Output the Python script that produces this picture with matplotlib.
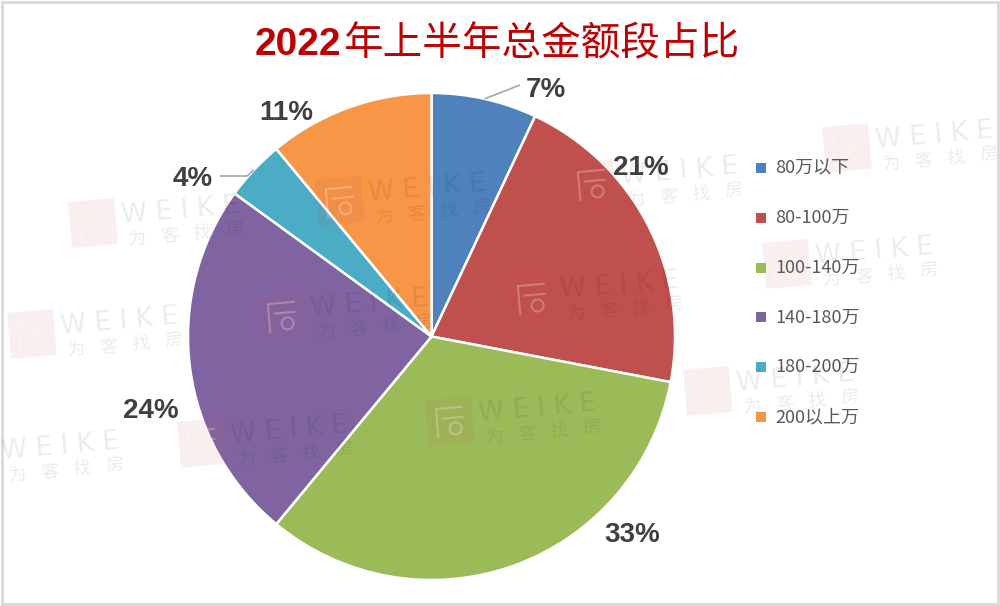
import numpy as np
import matplotlib
matplotlib.use('Agg')
import matplotlib.pyplot as plt
from matplotlib.patches import Rectangle
from matplotlib.transforms import Affine2D

plt.rcParams['font.family'] = ['Noto Sans CJK SC', 'DejaVu Sans']

# ---------------- data ----------------
categories = ['80万以下', '80-100万', '100-140万', '140-180万', '180-200万', '200以上万']
shares = [7, 21, 33, 24, 4, 11]
colors = ['#4F81BD', '#C0504D', '#9BBB59', '#8064A2', '#4BACC6', '#F79646']
title_year = '2022'
title_rest = '年上半年总金额段占比'
watermark_word = 'W E I K E'
watermark_cn = ['为', '客', '找', '房']

# ---------------- layout (pixels) ----------------
W, H = 1000, 606
fig = plt.figure(figsize=(W / 100, H / 100), dpi=100)
fig.patch.set_facecolor('white')

cx, cy, R = 431.5, 336.5, 243.5
half = 1.2 * R
ax = fig.add_axes([(cx - half) / W, (H - cy - half) / H, 2 * half / W, 2 * half / H])
wedges, _ = ax.pie(shares, colors=colors, startangle=90, counterclock=False, radius=1,
                   wedgeprops=dict(edgecolor='white', linewidth=1.8))
ax.set_xlim(-1.2, 1.2)
ax.set_ylim(-1.2, 1.2)
ax.axis('off')


def to_pie(px, py):
    return (px - cx) / R, (cy - py) / R


# percent labels (baseline positions in pixels)
label_px = [(546, 97), (641, 175), (632, 542), (151, 418), (193, 186), (286, 120)]
for v, (px, py) in zip(shares, label_px):
    x, y = to_pie(px, py)
    ax.text(x, y, f'{v}%', ha='center', va='baseline', fontsize=20,
            fontweight='bold', family=['Liberation Sans', 'DejaVu Sans'], color='#404040')

# leader lines
cum = np.cumsum(shares)
mids = 90 - (cum - np.array(shares) / 2) * 3.6
leaders = {0: [(520, 85)], 4: [(247, 176), (220, 176)]}
for idx, pts in leaders.items():
    a = np.deg2rad(mids[idx])
    xs = [np.cos(a)] + [to_pie(*p)[0] for p in pts]
    ys = [np.sin(a)] + [to_pie(*p)[1] for p in pts]
    ax.plot(xs, ys, color='#A6A6A6', lw=1.2, solid_capstyle='butt')

# ---------------- overlay in pixel coords ----------------
ov = fig.add_axes([0, 0, 1, 1], zorder=5)
ov.set_xlim(0, W)
ov.set_ylim(H, 0)
ov.axis('off')
ov.patch.set_alpha(0)

# title
ov.text(341, 55, title_year, ha='right', va='baseline', fontsize=28, fontweight='bold',
        family=['Liberation Sans', 'DejaVu Sans'], color='#C00000')
ov.text(343, 55, title_rest, ha='left', va='baseline', fontsize=28.5,
        family=['Noto Sans CJK SC'], color='#C00000')

# legend
for i, (lab, col) in enumerate(zip(categories, colors)):
    ry = 168 + i * 49.8
    ov.add_patch(Rectangle((756, ry - 5), 10, 10, facecolor=col, edgecolor='none'))
    ov.text(775, ry, lab, ha='left', va='center', fontsize=13, color='#595959')

# watermarks
wm = [(68, 202), (315, 180), (257, 295), (7, 313), (822, 127), (567, 163), (762, 243),
      (507, 277), (-52, 438), (177, 422), (425, 400), (683, 370)]
for lx, ly in wm:
    rot = Affine2D().rotate_deg_around(lx, ly, -5) + ov.transData
    ov.add_patch(Rectangle((lx, ly), 46, 46, facecolor='#C0504D', alpha=0.09,
                           edgecolor='none', transform=rot))
    ov.plot([lx + 10, lx + 10, lx + 36], [ly + 38, ly + 10, ly + 10], color='white',
            lw=1.5, alpha=0.25, transform=rot)
    ov.plot([lx + 16, lx + 36], [ly + 20, ly + 20], color='white', lw=1.5, alpha=0.25,
            transform=rot)
    ov.add_patch(plt.Circle((lx + 28, ly + 31), 6, facecolor='none', edgecolor='white',
                            lw=1.5, alpha=0.25, transform=rot))
    ov.text(lx + 52, ly + 26, watermark_word, ha='left', va='baseline', fontsize=19,
            family=['DejaVu Sans'], color='black', alpha=0.08, rotation=5,
            rotation_mode='anchor', transform=rot)
    for j, ch in enumerate(watermark_cn):
        ov.text(lx + 56 + j * 33, ly + 48, ch, ha='left', va='baseline', fontsize=13,
                color='black', alpha=0.08, rotation=5, rotation_mode='anchor', transform=rot)

# border
ov.add_patch(Rectangle((1.5, 1.5), 996, 602, fill=False, edgecolor='#D9D9D9', lw=2))

fig.savefig('out.png', dpi=100, facecolor='white')
